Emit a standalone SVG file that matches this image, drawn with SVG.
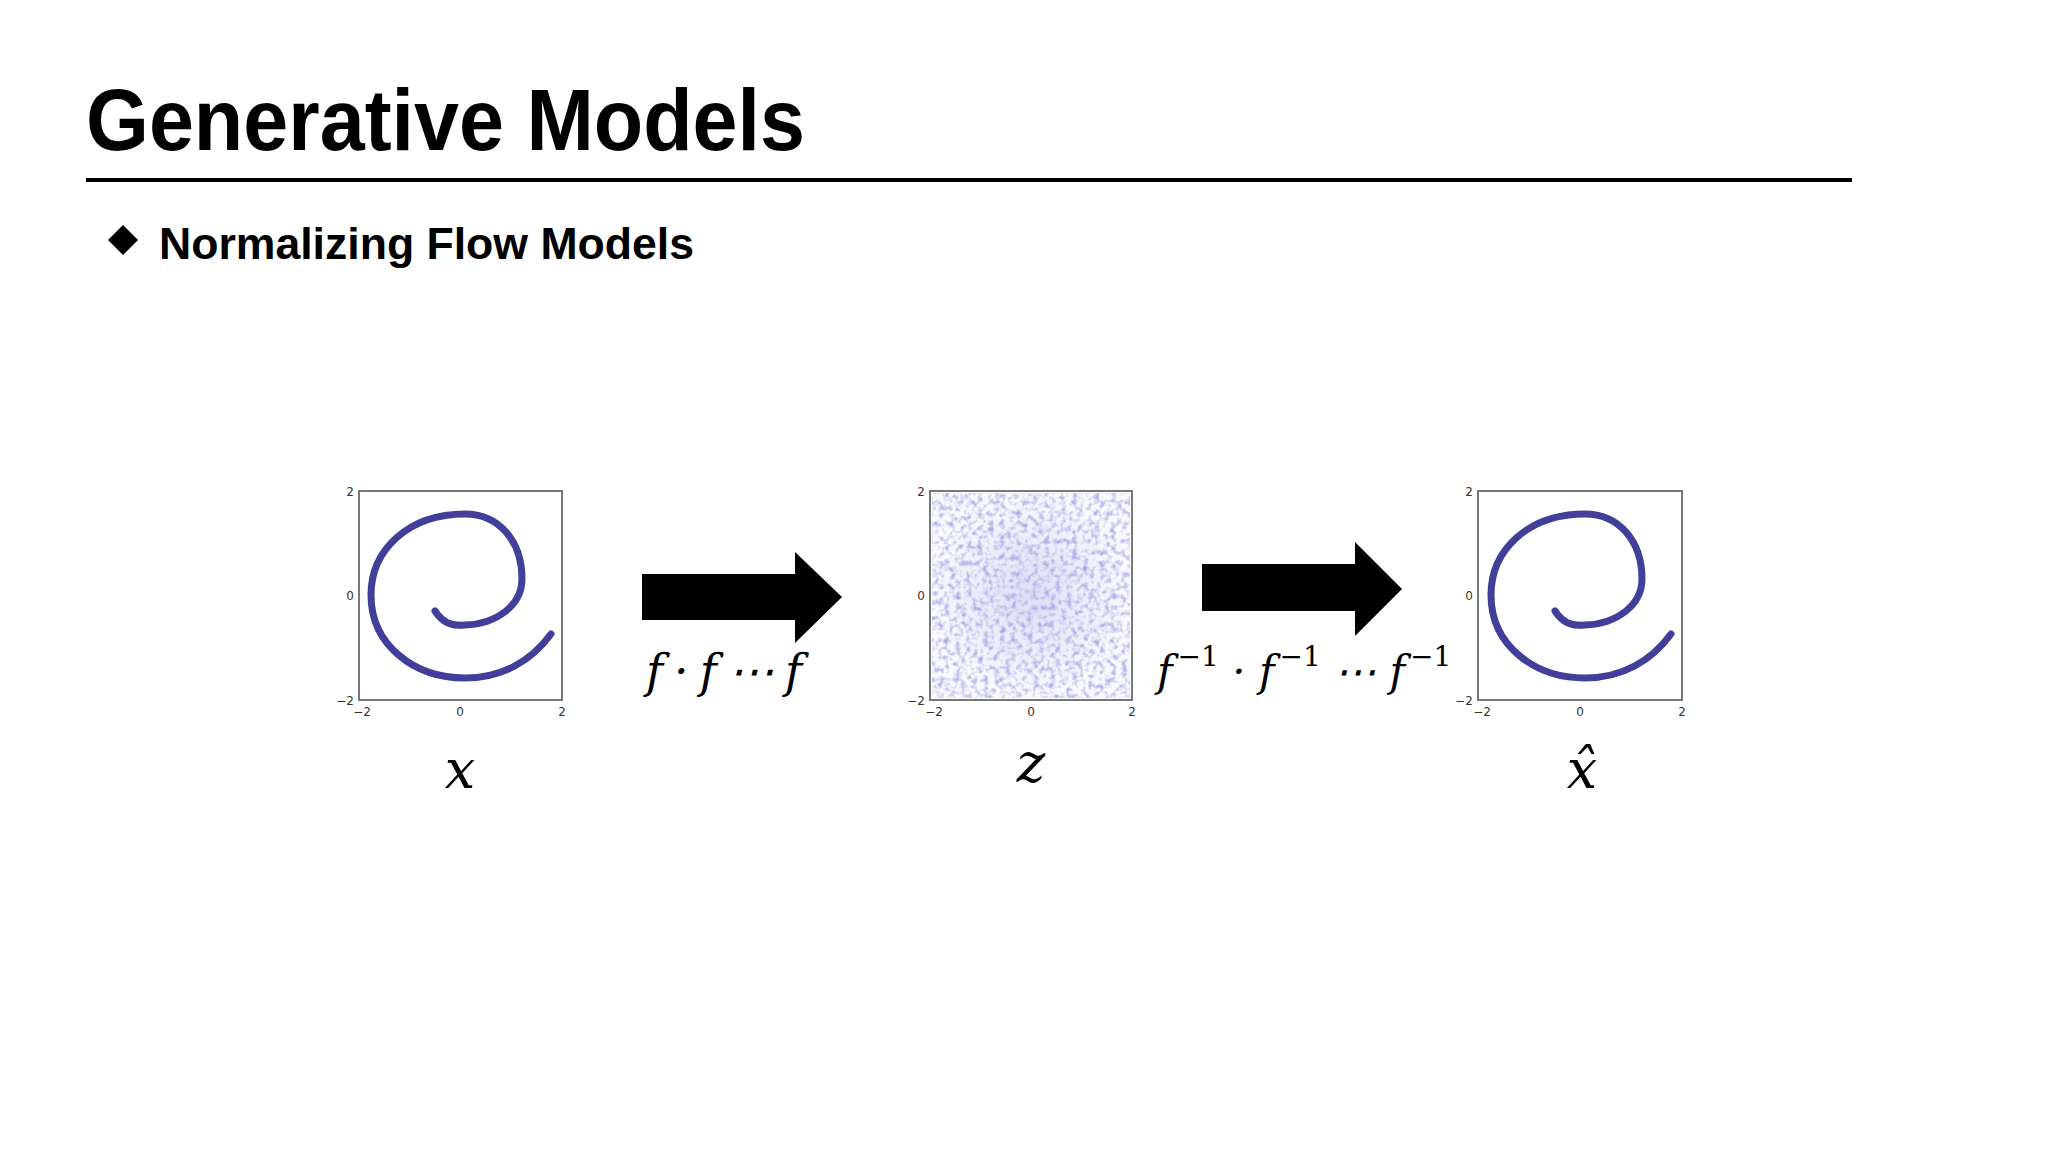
<svg xmlns="http://www.w3.org/2000/svg" width="2048" height="1152" viewBox="0 0 2048 1152">
<style>
.t{font-family:"Liberation Sans",Arial,sans-serif;fill:#000}
.m{font-family:"DejaVu Serif","Liberation Serif",serif;font-style:italic;fill:#000}
.tick{font-family:"DejaVu Sans",sans-serif;font-size:12px;fill:#333}
.box{fill:#fff;stroke:#777;stroke-width:2}
.sp{fill:none;stroke:#2c2a8e;stroke-width:7;stroke-linecap:round;opacity:.9}
</style>
<defs>
<filter id="noise" x="0" y="0" width="100%" height="100%">
<feTurbulence type="fractalNoise" baseFrequency="0.18" numOctaves="2" seed="4"/>
<feColorMatrix type="matrix" values="0 0 0 0 0.38  0 0 0 0 0.38  0 0 0 0 0.8  2.4 0 0 0 -1.05"/>
</filter>
<radialGradient id="rg"><stop offset="0" stop-color="#6a6ad0" stop-opacity=".22"/><stop offset="1" stop-color="#6a6ad0" stop-opacity=".04"/></radialGradient>
<g id="spiral"><path class="sp" d="M435,611 C444,625 455,626 465,625 C497,624 522,605 522,579 C522,540 498,514 465,514 C408,514 371,550 371,595 C371,645 414,678 465,678 C503,678 532,660 551,634"/></g>
</defs>
<g id="title">
<text class="t" x="86" y="150" font-size="88" font-weight="bold" textLength="719" lengthAdjust="spacingAndGlyphs">Generative Models</text>
<rect x="86" y="178" width="1766" height="4" fill="#000"/>
</g>
<g id="subtitle">
<polygon points="123,225 138,240 123,255 108,240" fill="#000"/>
<text class="t" x="159" y="259" font-size="44" font-weight="bold" textLength="535" lengthAdjust="spacingAndGlyphs">Normalizing Flow Models</text>
</g>
<g id="plot-x">
<rect class="box" x="359" y="491" width="203" height="209"/>
<use href="#spiral"/>
<text class="tick" x="354" y="496" text-anchor="end">2</text><text class="tick" x="354" y="600" text-anchor="end">0</text><text class="tick" x="354" y="705" text-anchor="end">−2</text>
<text class="tick" x="362" y="716" text-anchor="middle">−2</text><text class="tick" x="460" y="716" text-anchor="middle">0</text><text class="tick" x="562" y="716" text-anchor="middle">2</text>
<text class="m" x="460" y="788" font-size="54" text-anchor="middle">x</text>
</g>
<g id="plot-z">
<rect class="box" x="930" y="491" width="202" height="209"/>
<rect x="932" y="493" width="198" height="205" fill="url(#rg)"/>
<rect x="932" y="493" width="198" height="205" filter="url(#noise)"/>
<text class="tick" x="925" y="496" text-anchor="end">2</text><text class="tick" x="925" y="600" text-anchor="end">0</text><text class="tick" x="925" y="705" text-anchor="end">−2</text>
<text class="tick" x="934" y="716" text-anchor="middle">−2</text><text class="tick" x="1031" y="716" text-anchor="middle">0</text><text class="tick" x="1132" y="716" text-anchor="middle">2</text>
<text class="m" x="1031" y="782" font-size="54" text-anchor="middle">z</text>
</g>
<g id="plot-xhat">
<rect class="box" x="1478" y="491" width="204" height="209"/>
<g transform="translate(1120,0)"><use href="#spiral"/></g>
<text class="tick" x="1473" y="496" text-anchor="end">2</text><text class="tick" x="1473" y="600" text-anchor="end">0</text><text class="tick" x="1473" y="705" text-anchor="end">−2</text>
<text class="tick" x="1482" y="716" text-anchor="middle">−2</text><text class="tick" x="1580" y="716" text-anchor="middle">0</text><text class="tick" x="1682" y="716" text-anchor="middle">2</text>
<text class="m" x="1582" y="788" font-size="54" text-anchor="middle">x̂</text>
</g>
<g id="connectors">
<polygon points="642,574 795,574 795,552 842,597 795,643 795,620 642,620" fill="#000"/>
<polygon points="1202,564 1355,564 1355,542 1402,589 1355,636 1355,611 1202,611" fill="#000"/>
<text class="m" x="646" y="687" font-size="46" textLength="156" lengthAdjust="spacing">f · f ⋯ f</text>
<text class="m" x="1157" y="686" font-size="42">f<tspan font-style="normal" font-size="28" dx="5" dy="-20">−1</tspan><tspan dy="20"> · f</tspan><tspan font-style="normal" font-size="28" dx="5" dy="-20">−1</tspan><tspan dy="20"> ⋯ f</tspan><tspan font-style="normal" font-size="28" dx="5" dy="-20">−1</tspan></text>
</g>
</svg>
